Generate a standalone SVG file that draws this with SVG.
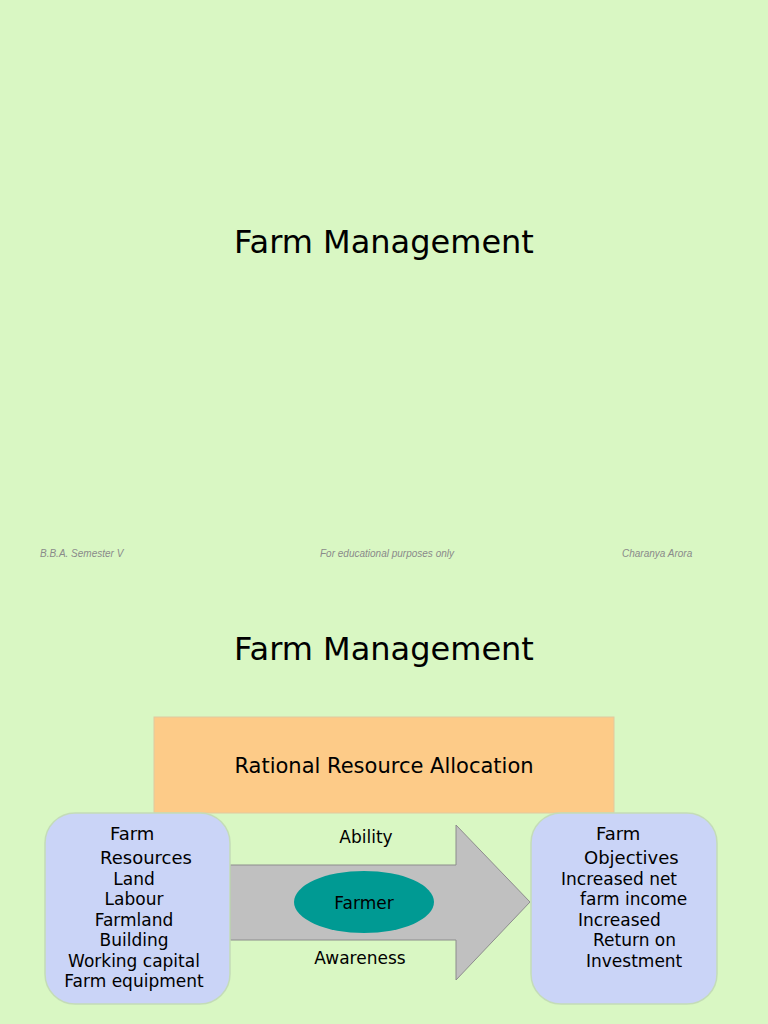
<svg xmlns="http://www.w3.org/2000/svg" width="768" height="1024" viewBox="0 0 768 1024">
<style>
text{font-family:"DejaVu Sans",sans-serif;fill:#000}
.t{font-size:32px;text-anchor:middle}
.f{font-family:"Liberation Sans",sans-serif;font-size:10px;font-style:italic;fill:#8a8a8a}
.n{font-size:17px}
.c{text-anchor:middle}
.box{fill:#cad4f7;stroke:#c4dcb8;stroke-width:1.5}
</style>
<rect width="768" height="1024" fill="#d9f7c3"/>
<text class="t" x="384" y="253">Farm Management</text>
<text class="f" x="40" y="557">B.B.A. Semester V</text>
<text class="f" x="320" y="557">For educational purposes only</text>
<text class="f" x="622" y="557">Charanya Arora</text>
<text class="t" x="384" y="660">Farm Management</text>
<g id="allocation"><rect x="154" y="717" width="460" height="96" fill="#fdcb88" stroke="#e0c9a0"/>
<text x="384" y="773" class="c" font-size="21">Rational Resource Allocation</text></g>
<g id="connectors"><path d="M230 865H456V825L530 902L456 980V940H230Z" fill="#c0c0c0" stroke="#8c8c8c"/></g>
<g id="farmer"><ellipse cx="364" cy="902" rx="70" ry="31" fill="#009a93"/>
<text x="364" y="909" class="c" font-size="17">Farmer</text></g>
<text x="366" y="843" class="c n">Ability</text>
<text x="360" y="964" class="c n">Awareness</text>
<g id="resources"><rect class="box" x="45" y="813" width="185" height="191" rx="30"/>
<text x="110" y="840" font-size="18">Farm</text>
<text x="100" y="864" font-size="18">Resources</text>
<g class="n c"><text x="134" y="885">Land</text><text x="134" y="905">Labour</text><text x="134" y="926">Farmland</text><text x="134" y="946">Building</text><text x="134" y="967">Working capital</text><text x="134" y="987">Farm equipment</text></g></g>
<g id="objectives"><rect class="box" x="531" y="813" width="186" height="191" rx="30"/>
<text x="596" y="840" font-size="18">Farm</text>
<text x="584" y="864" font-size="18">Objectives</text>
<g class="n"><text x="561" y="885">Increased net</text><text x="580" y="905">farm income</text><text x="578" y="926">Increased</text><text x="593" y="946">Return on</text><text x="586" y="967">Investment</text></g></g>
</svg>
